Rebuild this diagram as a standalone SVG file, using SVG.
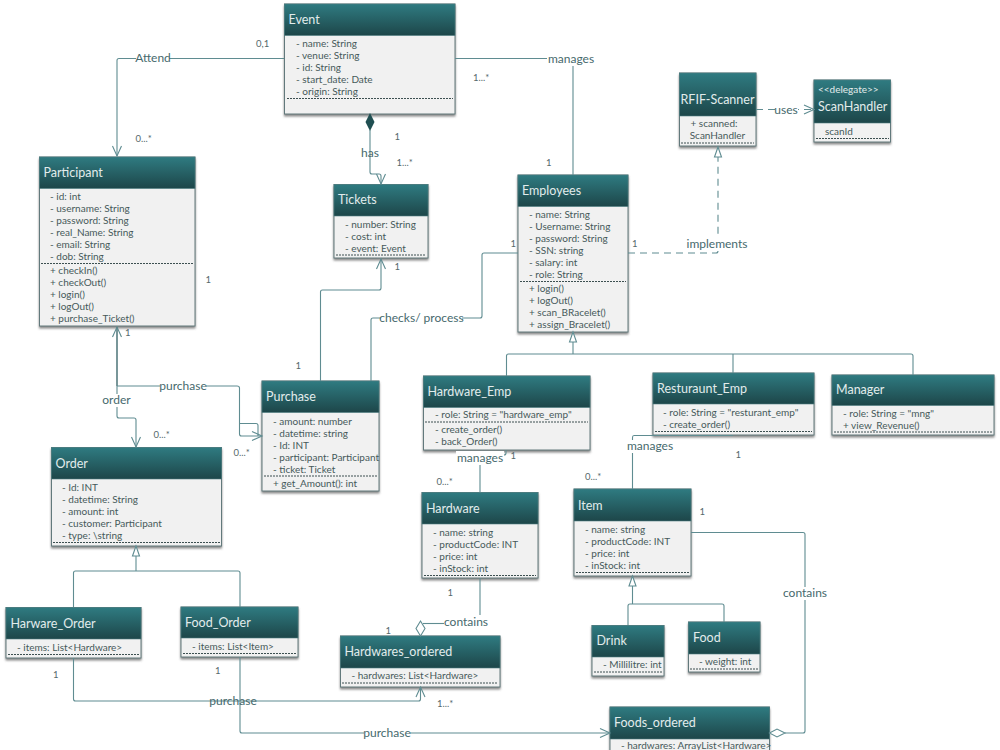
<svg xmlns="http://www.w3.org/2000/svg" width="1000" height="750" viewBox="0 0 1000 750">
<style>
text{font-family:Lato,"Noto Sans","Liberation Sans",sans-serif}
.b{fill:#f1f1f1;stroke:#62797b;stroke-width:1;filter:url(#sh)}
.h{fill:url(#hd);stroke:#4d7d80;stroke-width:.6}
.t{font-size:12.500px;fill:#e2ecec}
.s{font-size:10px;fill:#e2ecec}
.m{font-size:10px;fill:#46595a}
.d{stroke:#3c4f50;stroke-width:1;stroke-dasharray:2 1;fill:none}
.c{fill:none;stroke:#5f8c91;stroke-width:1.1}
.k{stroke-dasharray:7 5}
.l{font-size:12px;fill:#46696d;text-anchor:middle}
.n{font-size:9.500px;fill:#55696b}
.w{fill:#fff}
</style>
<defs>
<linearGradient id="hd" x1="0" y1="0" x2="0" y2="1"><stop offset="0" stop-color="#2f7b81"/><stop offset="1" stop-color="#1d4649"/></linearGradient>
<filter id="sh" x="-10%" y="-10%" width="120%" height="120%"><feDropShadow dx="0" dy="2" stdDeviation="1" flood-color="#555" flood-opacity=".7"/></filter>
<marker id="o" markerUnits="userSpaceOnUse" markerWidth="14" markerHeight="14" refX="11" refY="7" orient="auto"><path d="M1,2.500 L11,7 L1,11.500" fill="none" stroke="#5f8c91" stroke-width="1.100"/></marker>
<marker id="g" markerUnits="userSpaceOnUse" markerWidth="14" markerHeight="14" refX="12" refY="7" orient="auto"><path d="M2,3.500 L12,7 L2,10.500 Z" fill="#fff" stroke="#5f8c91" stroke-width="1.100"/></marker>
</defs>

<g id="event"><rect class="b" x="284.500" y="4" width="170.500" height="110"/><rect class="h" x="284.500" y="4" width="170.500" height="31.500"/><text class="t" x="288.500" y="23.500">Event</text>
<text class="m" x="296" y="47">- name: String</text><text class="m" x="296" y="59">- venue: String</text><text class="m" x="296" y="71">- id: String</text><text class="m" x="296" y="83">- start_date: Date</text><text class="m" x="296" y="95">- origin: String</text><path class="d" d="M287,98.500H453"/></g>

<g id="participant"><rect class="b" x="39.500" y="157" width="155.500" height="169"/><rect class="h" x="39.500" y="157" width="155.500" height="31.500"/><text class="t" x="43.500" y="176.500">Participant</text>
<text class="m" x="50" y="199.500">- id: int</text><text class="m" x="50" y="211.500">- username: String</text><text class="m" x="50" y="223.500">- password: String</text><text class="m" x="50" y="235.500">- real_Name: String</text><text class="m" x="50" y="247.500">- email: String</text><text class="m" x="50" y="259.500">- dob: String</text><path class="d" d="M41,263.500H193"/>
<text class="m" x="50" y="273.500">+ checkIn()</text><text class="m" x="50" y="285.500">+ checkOut()</text><text class="m" x="50" y="297.500">+ login()</text><text class="m" x="50" y="309.500">+ logOut()</text><text class="m" x="50" y="321.500">+ purchase_Ticket()</text></g>

<g id="tickets"><rect class="b" x="334" y="184.500" width="94" height="73.500"/><rect class="h" x="334" y="184.500" width="94" height="31.500"/><text class="t" x="338" y="204">Tickets</text>
<text class="m" x="345" y="227.500">- number: String</text><text class="m" x="345" y="239.500">- cost: int</text><text class="m" x="345" y="251.500">- event: Event</text><path class="d" d="M336,255H426"/></g>

<g id="employees"><rect class="b" x="518" y="175" width="110" height="157"/><rect class="h" x="518" y="175" width="110" height="31.500"/><text class="t" x="522" y="194.500">Employees</text>
<text class="m" x="529" y="217.500">- name: String</text><text class="m" x="529" y="229.500">- Username: String</text><text class="m" x="529" y="241.500">- password: String</text><text class="m" x="529" y="253.500">- SSN: string</text><text class="m" x="529" y="265.500">- salary: int</text><text class="m" x="529" y="277.500">- role: String</text><path class="d" d="M520,281.500H626"/>
<text class="m" x="529" y="291.500">+ login()</text><text class="m" x="529" y="303.500">+ logOut()</text><text class="m" x="529" y="315.500">+ scan_BRacelet()</text><text class="m" x="529" y="327.500">+ assign_Bracelet()</text></g>

<g id="rfif-scanner"><rect class="b" x="679.500" y="73" width="76.500" height="73"/><rect class="h" x="679.500" y="73" width="76.500" height="43"/><text class="t" x="717.500" y="104" text-anchor="middle">RFIF-Scanner</text>
<text class="m" x="714" y="127" text-anchor="middle">+ scanned:</text><text class="m" x="717.500" y="139" text-anchor="middle">ScanHandler</text><path class="d" d="M681,143H754"/></g>

<g id="scanhandler"><rect class="b" x="814" y="80" width="76.500" height="62"/><rect class="h" x="814" y="80" width="76.500" height="43"/><text class="s" x="818" y="92.500">&lt;&lt;delegate&gt;&gt;</text><text class="t" x="818" y="111">ScanHandler</text>
<text class="m" x="825" y="134.500">scanId</text><path class="d" d="M816,138.500H889"/></g>

<g id="purchase"><rect class="b" x="262" y="381" width="117" height="110"/><rect class="h" x="262" y="381" width="117" height="31.500"/><text class="t" x="266" y="401">Purchase</text>
<text class="m" x="273" y="424.500">- amount: number</text><text class="m" x="273" y="436.500">- datetime: string</text><text class="m" x="273" y="448.500">- Id: INT</text><text class="m" x="273" y="460.500">- participant: Participant</text><text class="m" x="273" y="472.500">- ticket: Ticket</text><path class="d" d="M264,476H377"/><text class="m" x="273" y="486.500">+ get_Amount(): int</text></g>

<g id="order"><rect class="b" x="51.500" y="447.500" width="170" height="98.500"/><rect class="h" x="51.500" y="447.500" width="170" height="31.500"/><text class="t" x="55.500" y="467.500">Order</text>
<text class="m" x="62" y="490.500">- Id: INT</text><text class="m" x="62" y="502.500">- datetime: String</text><text class="m" x="62" y="514.500">- amount: int</text><text class="m" x="62" y="526.500">- customer: Participant</text><text class="m" x="62" y="538.500">- type: \string</text><path class="d" d="M53,542.500H220"/></g>

<g id="hardware-emp"><rect class="b" x="423.500" y="376" width="166.500" height="74"/><rect class="h" x="423.500" y="376" width="166.500" height="31.500"/><text class="t" x="427.500" y="395.500">Hardware_Emp</text>
<text class="m" x="435" y="418">- role: String = "hardware_emp"</text><path class="d" d="M425,422H588"/><text class="m" x="435" y="432.500">- create_order()</text><text class="m" x="435" y="444.500">- back_Order()</text></g>

<g id="resturaunt-emp"><rect class="b" x="653" y="373" width="161" height="62"/><rect class="h" x="653" y="373" width="161" height="31"/><text class="t" x="657" y="392.500">Resturaunt_Emp</text>
<text class="m" x="663" y="415.500">- role: String = "resturant_emp"</text><text class="m" x="663" y="427.500">- create_order()</text><path class="d" d="M655,431.500H812"/></g>

<g id="manager"><rect class="b" x="832" y="375" width="162" height="60"/><rect class="h" x="832" y="375" width="162" height="30.500"/><text class="t" x="836" y="393.500">Manager</text>
<text class="m" x="843" y="416.500">- role: String = "mng"</text><text class="m" x="843" y="428.500">+ view_Revenue()</text><path class="d" d="M834,432H992"/></g>

<g id="hardware"><rect class="b" x="422" y="492.500" width="116" height="85.500"/><rect class="h" x="422" y="492.500" width="116" height="31.500"/><text class="t" x="426" y="512.500">Hardware</text>
<text class="m" x="433" y="535.500">- name: string</text><text class="m" x="433" y="547.500">- productCode: INT</text><text class="m" x="433" y="559.500">- price: int</text><text class="m" x="433" y="571.500">- inStock: int</text><path class="d" d="M424,575.500H536"/></g>

<g id="item"><rect class="b" x="574" y="489" width="117" height="87"/><rect class="h" x="574" y="489" width="117" height="32"/><text class="t" x="578" y="509.500">Item</text>
<text class="m" x="585" y="532.500">- name: string</text><text class="m" x="585" y="544.500">- productCode: INT</text><text class="m" x="585" y="556.500">- price: int</text><text class="m" x="585" y="568.500">- inStock: int</text><path class="d" d="M576,572.500H689"/></g>

<g id="harware-order"><rect class="b" x="6" y="607.500" width="135" height="50.500"/><rect class="h" x="6" y="607.500" width="135" height="31.500"/><text class="t" x="10.500" y="627.500">Harware_Order</text>
<text class="m" x="17" y="650.500">- items: List&lt;Hardware&gt;</text><path class="d" d="M8,654.500H139"/></g>

<g id="food-order"><rect class="b" x="181" y="607" width="117" height="50"/><rect class="h" x="181" y="607" width="117" height="31"/><text class="t" x="185" y="626.500">Food_Order</text>
<text class="m" x="192" y="649.500">- items: List&lt;Item&gt;</text><path class="d" d="M183,653.500H296"/></g>

<g id="hardwares-ordered"><rect class="b" x="340.500" y="636" width="159.500" height="51"/><rect class="h" x="340.500" y="636" width="159.500" height="32"/><text class="t" x="344.500" y="655.500">Hardwares_ordered</text>
<text class="m" x="351.500" y="678.500">- hardwares: List&lt;Hardware&gt;</text><path class="d" d="M342,683H498"/></g>

<g id="drink"><rect class="b" x="592" y="625.500" width="72" height="50.500"/><rect class="h" x="592" y="625.500" width="72" height="31.500"/><text class="t" x="596.500" y="645">Drink</text>
<text class="m" x="603" y="667.500">- Millilitre: int</text><path class="d" d="M594,672H662"/></g>

<g id="food"><rect class="b" x="688.500" y="622" width="71.500" height="50"/><rect class="h" x="688.500" y="622" width="71.500" height="32"/><text class="t" x="693" y="642">Food</text>
<text class="m" x="699" y="664.500">- weight: int</text><path class="d" d="M690,669H758"/></g>

<g id="foods-ordered"><rect class="b" x="610" y="707" width="159.500" height="60"/><rect class="h" x="610" y="707" width="159.500" height="32"/><text class="t" x="614" y="727">Foods_ordered</text>
<text class="m" x="621" y="749">- hardwares: ArrayList&lt;Hardware&gt;</text></g>

<g id="connectors">
<path class="c" d="M284,58.500H119Q117,58.500 117,60.500V156" marker-end="url(#o)"/>
<path class="c" d="M455,58.500H573V175"/>
<path d="M370,113L374.500,122L370,131L365.500,122Z" fill="#1f4f52"/>
<path class="c" d="M370,130V172Q370,174 372,174H379Q381,174 381,176V184" marker-end="url(#o)"/>
<path class="c" style="stroke:#3f6a6e;stroke-width:1.400px" d="M117,386V327" marker-end="url(#o)"/>
<path class="c" d="M117,386V416Q117,418 119,418H134Q136,418 136,420V447" marker-end="url(#o)"/>
<path class="c" d="M117,386H237Q239.500,386 239.500,388V434Q239.500,436 241.500,436H262" marker-end="url(#o)"/>
<path class="c" d="M240,423.500H256Q258,423.500 258,425.500V436"/>
<path class="c" d="M320.500,381V292Q320.500,290 322.500,290H379Q381,290 381,288V259" marker-end="url(#o)"/>
<path class="c" d="M371,381V320Q371,318 373,318H480Q482,318 482,316V255Q482,253 484,253H518"/>
<path class="c k" d="M628,253H716Q718,253 718,251V147" marker-end="url(#g)"/>
<path class="c k" d="M756,109.500H814" marker-end="url(#o)"/>
<path class="c" d="M573,354V332" marker-end="url(#g)"/>
<path class="c" d="M506.500,376V356Q506.500,354 508.500,354H911Q913,354 913,356V375M733,354V373"/>
<path class="c" d="M506,450V453Q506,455 504,455H497M480,465V492.500"/>
<path class="c" d="M733,435.500H634Q632.500,435.500 632.500,437.500V489"/>
<path class="c" d="M136,571V546" marker-end="url(#g)"/>
<path class="c" d="M73.500,607V573Q73.500,571 75.500,571H238Q240,571 240,573V607"/>
<path class="c" d="M632.500,604V576" marker-end="url(#g)"/>
<path class="c" d="M628,625V606Q628,604 630,604H722Q724,604 724,606V622"/>
<path class="c" d="M480,578V615"/>
<path d="M420.500,621L425,628.500L420.500,636L416,628.500Z" fill="#fff" stroke="#5f8c91" stroke-width="1.100"/>
<path class="c" d="M423,623.500H445"/>
<path class="c" d="M73.500,658V699Q73.500,701 75.500,701H418.500Q420.500,701 420.500,699V687" marker-end="url(#o)"/>
<path class="c" d="M240,657V731Q240,733 242,733H610" marker-end="url(#o)"/>
<path class="c" d="M691,532.500H803Q805,532.500 805,534.500V731Q805,733 803,733H785"/>
<path d="M769.500,733L777,729L785,733L777,737Z" fill="#fff" stroke="#5f8c91" stroke-width="1.100"/>

<rect class="w" x="136" y="52" width="33" height="13"/><text class="l" x="153" y="62">Attend</text>
<rect class="w" x="547" y="52" width="48" height="14"/><text class="l" x="571" y="63">manages</text>
<text class="l" x="370" y="157">has</text>
<rect class="w" x="103" y="394" width="28" height="13"/><text class="l" x="116.500" y="404">order</text>
<rect class="w" x="160" y="381" width="46" height="10"/><text class="l" x="183" y="390">purchase</text>
<rect class="w" x="381" y="312" width="81" height="13"/><text class="l" x="421.500" y="322">checks/ process</text>
<rect class="w" x="687" y="238" width="60" height="13"/><text class="l" x="717" y="248">implements</text>
<rect class="w" x="775" y="104" width="23" height="12"/><text class="l" x="786" y="114">uses</text>
<rect class="w" x="456" y="451" width="48" height="14"/><text class="l" x="480" y="462">manages</text>
<rect class="w" x="626" y="440" width="48" height="13"/><text class="l" x="650" y="450">manages</text>
<rect class="w" x="444" y="616" width="43" height="13"/><text class="l" x="466" y="626">contains</text>
<text class="l" x="233" y="705">purchase</text>
<rect class="w" x="364" y="727" width="46" height="13"/><text class="l" x="387" y="737">purchase</text>
<rect class="w" x="783" y="587" width="44" height="13"/><text class="l" x="805" y="597">contains</text>

<text class="n" x="256" y="46.500">0,1</text><text class="n" x="135.500" y="142">0...*</text><text class="n" x="394.500" y="140">1</text><text class="n" x="396.500" y="166">1...*</text>
<text class="n" x="473" y="81">1...*</text><text class="n" x="546" y="166">1</text><text class="n" x="205.500" y="283">1</text><text class="n" x="125" y="336">1</text>
<text class="n" x="394.500" y="270">1</text><text class="n" x="295.500" y="369">1</text><text class="n" x="510.500" y="247">1</text><text class="n" x="632" y="247">1</text>
<text class="n" x="153.500" y="438">0...*</text><text class="n" x="233.500" y="456">0...*</text><text class="n" x="436.500" y="485">0...*</text><text class="n" x="510.500" y="459">1</text>
<text class="n" x="585" y="480">0...*</text><text class="n" x="735.500" y="458">1</text><text class="n" x="699.500" y="515">1</text><text class="n" x="447.500" y="596">1</text>
<text class="n" x="385.500" y="634">1</text><text class="n" x="53" y="678">1</text><text class="n" x="215" y="674">1</text><text class="n" x="437" y="707">1...*</text>
</g>
</svg>
